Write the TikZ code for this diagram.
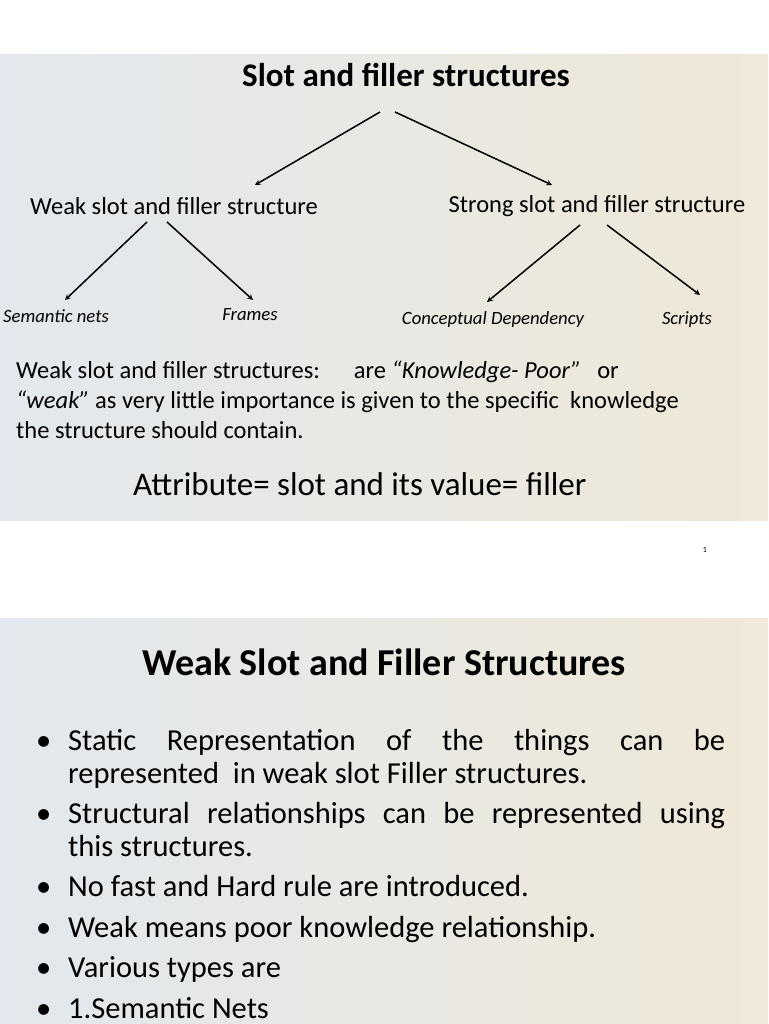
\documentclass[tikz,border=0pt]{standalone}
\usepackage{fontspec}
\setmainfont{Carlito}
\usetikzlibrary{positioning}
\definecolor{slideLeft}{RGB}{226,232,238}
\definecolor{slideRight}{RGB}{240,232,216}
\tikzstyle{slideBack} = [left color=slideLeft, right color=slideRight, draw=none]
\tikzstyle{treeArrow} = [->, >=stealth, line width=1.5pt, black]
\tikzstyle{levelOne} = [font=\fontsize{24.5}{28}\selectfont, inner sep=0]
\tikzstyle{leafText} = [font=\fontsize{18.7}{22}\selectfont\itshape, inner sep=0]
\tikzstyle{bodyText} = [font=\fontsize{24.5}{30}\selectfont, inner sep=0, anchor=base west]
\tikzstyle{bulletText} = [font=\fontsize{30.5}{34}\selectfont, inner sep=0, anchor=base west]
\newcommand{\fullLine}[1]{\makebox[657pt][s]{#1}}
\begin{document}
\begin{tikzpicture}[x=1pt, y=-1pt]
  \useasboundingbox (0,0) rectangle (768,1024);
  \fill [white] (0,0) rectangle (768,1024);
  \fill [slideBack] (0,55) rectangle (768,520);
  \fill [slideBack] (0,618) rectangle (768,1024);

  % first slide
  \node [font=\fontsize{33}{38}\selectfont\bfseries, inner sep=0] (title) at (406,75) {Slot and filler structures};
  \node [levelOne] (weak) at (174,206) {Weak slot and filler structure};
  \node [levelOne] (strong) at (597,206) {Strong slot and filler structure};
  \node [leafText] (semantic) at (56,316) {Semantic nets};
  \node [leafText] (frames) at (250,315) {Frames};
  \node [leafText] (cd) at (493,320) {Conceptual Dependency};
  \node [leafText] (scripts) at (687,320) {Scripts};
  \coordinate (t1) at (380,112);
  \coordinate (t2) at (395,112);
  \coordinate (w1) at (147,222);
  \coordinate (w2) at (167,222);
  \coordinate (s1) at (580,225);
  \coordinate (s2) at (607,225);
  \coordinate (weakTop) at (255,185);
  \coordinate (strongTop) at (552,185);
  \coordinate (semTop) at (65,300);
  \coordinate (frTop) at (253,300);
  \coordinate (cdTop) at (487,302);
  \coordinate (scTop) at (700,295);
  \draw [treeArrow] (t1) -- (weakTop);
  \draw [treeArrow] (t2) -- (strongTop);
  \draw [treeArrow] (w1) -- (semTop);
  \draw [treeArrow] (w2) -- (frTop);
  \draw [treeArrow] (s1) -- (cdTop);
  \draw [treeArrow] (s2) -- (scTop);

  \node [bodyText] (body1) at (16,378) {Weak slot and filler structures:\hspace{34pt}are \emph{“Knowledge- Poor”}\hspace{16pt}or};
  \node [bodyText] (body2) at (16,408) {\emph{“weak”} as very little importance is given to the specific\ \ knowledge};
  \node [bodyText] (body3) at (16,438) {the structure should contain.};
  \node [font=\fontsize{33}{38}\selectfont, inner sep=0, anchor=base west] (attr) at (133,495) {Attribute= slot and its value= filler};
  \node [font=\fontsize{8}{10}\selectfont, inner sep=0] (page) at (705,550) {1};

  % second slide
  \node [font=\fontsize{38}{44}\selectfont\bfseries, inner sep=0] (title2) at (384,662) {Weak Slot and Filler Structures};
  \foreach \y in {750,823,896,937,977,1018}
    \node [bulletText] at (36,\y) {•};
  \node [bulletText] (b1) at (68,750) {\fullLine{Static Representation of the things can be}};
  \node [bulletText] (b1b) at (68,783) {represented\ \ in weak slot Filler structures.};
  \node [bulletText] (b2) at (68,823) {\fullLine{Structural relationships can be represented using}};
  \node [bulletText] (b2b) at (68,856) {this structures.};
  \node [bulletText] (b3) at (68,896) {No fast and Hard rule are introduced.};
  \node [bulletText] (b4) at (68,937) {Weak means poor knowledge relationship.};
  \node [bulletText] (b5) at (68,977) {Various types are};
  \node [bulletText] (b6) at (68,1018) {1.Semantic Nets};
\end{tikzpicture}
\end{document}
